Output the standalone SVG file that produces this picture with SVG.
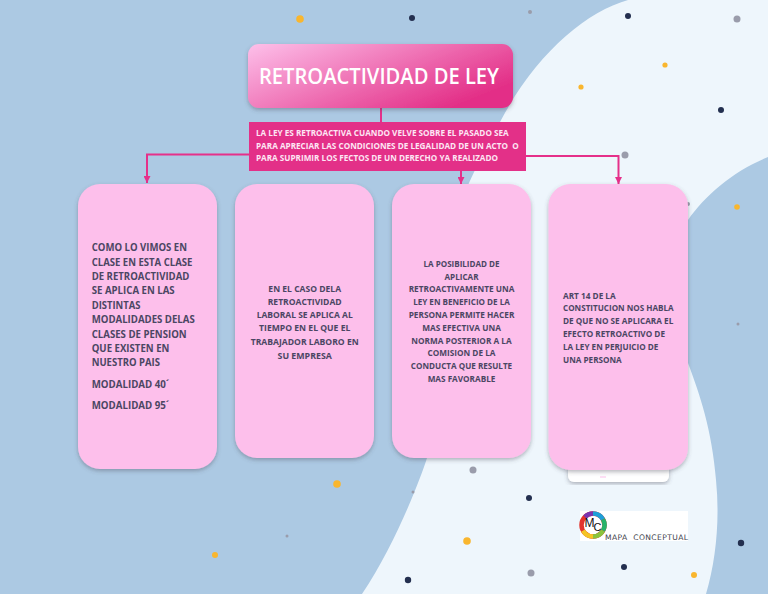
<svg xmlns="http://www.w3.org/2000/svg" width="768" height="594" viewBox="0 0 768 594">
<defs>
<linearGradient id="tg" x1="0" y1="0" x2="1" y2="0.6"><stop offset="0" stop-color="#fdc0ea"/><stop offset="1" stop-color="#e32f87"/></linearGradient>
<filter id="sh" x="-10%" y="-10%" width="120%" height="120%"><feDropShadow dx="0" dy="2" stdDeviation="2" flood-color="#4a4a5a" flood-opacity="0.4"/></filter>
<marker id="ah" markerUnits="userSpaceOnUse" markerWidth="8" markerHeight="7" refX="7" refY="3.5" orient="auto"><path d="M0 0L7 3.5L0 7Z" fill="#e5308a"/></marker>
</defs>
<style>
.n{fill:#fdbfeb;filter:url(#sh)}
.t{font-family:"Open Sans","Noto Sans",sans-serif;font-weight:700;font-size:9.8px;fill:#4b4663;white-space:pre}
.c{text-anchor:middle;font-size:9.3px}
.m{text-anchor:middle;font-size:9.3px}
.f{font-size:9.3px}
.s{font-family:"Open Sans","Noto Sans",sans-serif;font-weight:700;font-size:9.2px;fill:#fde6f4;white-space:pre}
.ln{fill:none;stroke:#e5308a;stroke-width:2}
.y{fill:#f9b62e}.d{fill:#232f4f}.g{fill:#9a9cab}
.seg{fill:none;stroke-width:4.5}
</style>
<rect width="768" height="594" fill="#acc9e3"/>
<path d="M628 0C585 12 535 55 500 122C470 175 430 260 425 350C424 400 428 440 427 458C420 480 395 545 362 594L706 594C716 560 720 520 716 480C712 430 700 395 688 363L688 220C705 195 735 170 768 157L768 0Z" fill="#eef6fc"/>
<g id="dots">
<circle class="y" cx="300" cy="19" r="3.8"/><circle class="y" cx="665" cy="65" r="2.6"/><circle class="y" cx="581" cy="87" r="2.6"/><circle class="y" cx="737" cy="207" r="2.8"/><circle class="y" cx="337" cy="484" r="3.8"/><circle class="y" cx="467" cy="541" r="3.8"/><circle class="y" cx="215" cy="555" r="3"/><circle class="y" cx="694" cy="575" r="3"/>
<circle class="d" cx="412" cy="18" r="3"/><circle class="d" cx="628" cy="16" r="3"/><circle class="d" cx="721" cy="110" r="3"/><circle class="d" cx="529" cy="498" r="3"/><circle class="d" cx="741" cy="543" r="3.2"/><circle class="d" cx="624" cy="567" r="3"/><circle class="d" cx="408" cy="580" r="3.2"/>
<circle class="g" cx="737" cy="19" r="3.5"/><circle class="g" cx="530" cy="12" r="2"/><circle class="g" cx="625" cy="155" r="3.5"/><circle class="g" cx="473" cy="470" r="3.5"/><circle class="g" cx="413" cy="492" r="1.5"/><circle class="g" cx="287" cy="536" r="1.5"/><circle class="g" cx="738" cy="324" r="1.5"/><circle class="g" cx="531" cy="573" r="3.5"/><circle class="g" cx="688" cy="204" r="2"/>
</g>
<g id="connectors">
<path class="ln" d="M381 108V122"/>
<path class="ln" d="M249 154.500H147V183" marker-end="url(#ah)"/>
<path class="ln" d="M526 156H618.500V184" marker-end="url(#ah)"/>
<path class="ln" d="M461 171V184" marker-end="url(#ah)"/>
</g>
<g id="card"><rect x="568" y="455" width="101" height="27" rx="6" fill="#fff" filter="url(#sh)"/><rect x="600" y="476.500" width="6" height="1" fill="#fdbfeb"/></g>
<g id="title"><rect x="248" y="44" width="265" height="64" rx="11" fill="url(#tg)" filter="url(#sh)"/><text x="259" y="84" font-family="'Open Sans','Noto Sans',sans-serif" font-weight="600" font-size="22px" fill="#fff" textLength="240" lengthAdjust="spacingAndGlyphs">RETROACTIVIDAD DE LEY</text></g>
<g id="definition"><rect x="249" y="122" width="277" height="49" fill="#e33088"/>
<text class="s" x="256" y="135.500" textLength="252.700" lengthAdjust="spacingAndGlyphs">LA LEY ES RETROACTIVA CUANDO VELVE SOBRE EL PASADO SEA</text>
<text class="s" x="256" y="148.500" textLength="262.700" lengthAdjust="spacingAndGlyphs">PARA APRECIAR LAS CONDICIONES DE LEGALIDAD DE UN ACTO  O</text>
<text class="s" x="256" y="160.500" textLength="242" lengthAdjust="spacingAndGlyphs">PARA SUPRIMIR LOS FECTOS DE UN DERECHO YA REALIZADO</text></g>
<g id="node1"><rect class="n" x="78" y="184" width="139" height="285" rx="22"/>
<text class="t" x="91.700" y="251" textLength="95.300" lengthAdjust="spacingAndGlyphs">COMO LO VIMOS EN</text>
<text class="t" x="91.700" y="265.500" textLength="100.700" lengthAdjust="spacingAndGlyphs">CLASE EN ESTA CLASE</text>
<text class="t" x="91.700" y="279.500" textLength="97.700" lengthAdjust="spacingAndGlyphs">DE RETROACTIVIDAD</text>
<text class="t" x="91.700" y="294" textLength="83" lengthAdjust="spacingAndGlyphs">SE APLICA EN LAS</text>
<text class="t" x="91.700" y="309" textLength="48.700" lengthAdjust="spacingAndGlyphs">DISTINTAS</text>
<text class="t" x="91.700" y="323" textLength="103" lengthAdjust="spacingAndGlyphs">MODALIDADES DELAS</text>
<text class="t" x="91.700" y="337.500" textLength="95" lengthAdjust="spacingAndGlyphs">CLASES DE PENSION</text>
<text class="t" x="91.700" y="351.500" textLength="77.700" lengthAdjust="spacingAndGlyphs">QUE EXISTEN EN</text>
<text class="t" x="91.700" y="366" textLength="68.300" lengthAdjust="spacingAndGlyphs">NUESTRO PAIS</text>
<text class="t" x="91.700" y="388" textLength="77.700" lengthAdjust="spacingAndGlyphs">MODALIDAD 40´</text>
<text class="t" x="91.700" y="409" textLength="77.700" lengthAdjust="spacingAndGlyphs">MODALIDAD 95´</text></g>
<g id="node2"><rect class="n" x="235" y="184" width="139" height="274" rx="22"/>
<text class="t c" x="304.700" y="291.500" textLength="72.700" lengthAdjust="spacingAndGlyphs">EN EL CASO DELA</text>
<text class="t c" x="304.700" y="304.500" textLength="74" lengthAdjust="spacingAndGlyphs">RETROACTIVIDAD</text>
<text class="t c" x="304.700" y="318" textLength="96" lengthAdjust="spacingAndGlyphs">LABORAL SE APLICA AL</text>
<text class="t c" x="304.700" y="331" textLength="91.300" lengthAdjust="spacingAndGlyphs">TIEMPO EN EL QUE EL</text>
<text class="t c" x="304.700" y="344.500" textLength="108" lengthAdjust="spacingAndGlyphs">TRABAJADOR LABORO EN</text>
<text class="t c" x="304.700" y="358.500" textLength="54.300" lengthAdjust="spacingAndGlyphs">SU EMPRESA</text></g>
<g id="node3"><rect class="n" x="392" y="184" width="139" height="274" rx="22"/>
<text class="t m" x="461.500" y="267" textLength="76" lengthAdjust="spacingAndGlyphs">LA POSIBILIDAD DE</text>
<text class="t m" x="461.500" y="279.500" textLength="34" lengthAdjust="spacingAndGlyphs">APLICAR</text>
<text class="t m" x="461.500" y="292" textLength="105.700" lengthAdjust="spacingAndGlyphs">RETROACTIVAMENTE UNA</text>
<text class="t m" x="461.500" y="304.500" textLength="96.700" lengthAdjust="spacingAndGlyphs">LEY EN BENEFICIO DE LA</text>
<text class="t m" x="461.500" y="318" textLength="105.700" lengthAdjust="spacingAndGlyphs">PERSONA PERMITE HACER</text>
<text class="t m" x="461.500" y="330.500" textLength="78.700" lengthAdjust="spacingAndGlyphs">MAS EFECTIVA UNA</text>
<text class="t m" x="461.500" y="343.500" textLength="100.300" lengthAdjust="spacingAndGlyphs">NORMA POSTERIOR A LA</text>
<text class="t m" x="461.500" y="356" textLength="68" lengthAdjust="spacingAndGlyphs">COMISION DE LA</text>
<text class="t m" x="461.500" y="368.500" textLength="101.300" lengthAdjust="spacingAndGlyphs">CONDUCTA QUE RESULTE</text>
<text class="t m" x="461.500" y="381.500" textLength="67.700" lengthAdjust="spacingAndGlyphs">MAS FAVORABLE</text></g>
<g id="node4"><rect class="n" x="548.500" y="184" width="139.500" height="286" rx="22"/>
<text class="t f" x="563" y="298.500" textLength="52.700" lengthAdjust="spacingAndGlyphs">ART 14 DE LA</text>
<text class="t f" x="563" y="311" textLength="110.700" lengthAdjust="spacingAndGlyphs">CONSTITUCION NOS HABLA</text>
<text class="t f" x="563" y="324" textLength="110.300" lengthAdjust="spacingAndGlyphs">DE QUE NO SE APLICARA EL</text>
<text class="t f" x="563" y="336.500" textLength="102" lengthAdjust="spacingAndGlyphs">EFECTO RETROACTIVO DE</text>
<text class="t f" x="563" y="349.500" textLength="95.300" lengthAdjust="spacingAndGlyphs">LA LEY EN PERJUICIO DE</text>
<text class="t f" x="563" y="362.500" textLength="58.700" lengthAdjust="spacingAndGlyphs">UNA PERSONA</text></g>
<g id="logo"><rect x="580" y="511" width="108" height="30" fill="#fff"/>
<circle class="seg" cx="593" cy="525" r="11.500" stroke="#e2342d"/>
<path class="seg" d="M584.900 516.900A11.500 11.500 0 0 1 593 513.500" stroke="#7a35b0"/>
<path class="seg" d="M593 513.500A11.500 11.500 0 0 1 603 519.300" stroke="#1d9fd8"/>
<path class="seg" d="M603 519.300A11.500 11.500 0 0 1 603 530.700" stroke="#25b36a"/>
<path class="seg" d="M603 530.700A11.500 11.500 0 0 1 593 536.500" stroke="#8ac43c"/>
<path class="seg" d="M593 536.500A11.500 11.500 0 0 1 583 530.700" stroke="#f4c425"/>
<text x="589.500" y="527" text-anchor="middle" font-family="'Liberation Sans',sans-serif" font-size="12px" fill="#111">M</text>
<text x="597.500" y="531" text-anchor="middle" font-family="'Liberation Sans',sans-serif" font-size="11px" fill="#111">C</text>
<text x="605" y="539.500" font-family="'DejaVu Sans',sans-serif" font-size="7.600px" fill="#3f444d" textLength="83" xml:space="preserve">MAPA  CONCEPTUAL</text></g>
</svg>
